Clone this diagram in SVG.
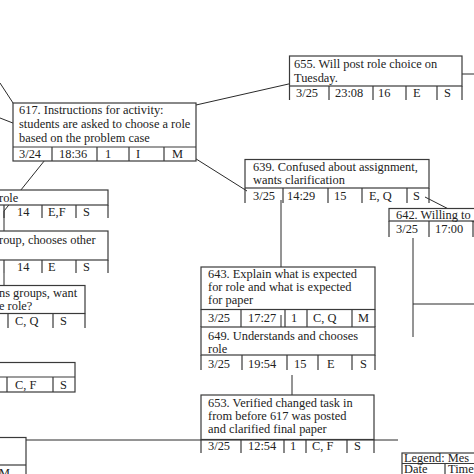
<svg xmlns="http://www.w3.org/2000/svg" width="474" height="474" viewBox="0 0 474 474">
<style>
.b{fill:#fff;stroke:#3a3a3a;stroke-width:1.2}
.d{fill:none;stroke:#3a3a3a;stroke-width:1.2}
.c{fill:none;stroke:#2a2a2a;stroke-width:1}
text{font-family:"Liberation Serif","Times New Roman",serif;font-size:12.4px;fill:#222}
</style>
<rect width="474" height="474" fill="#fff"/>
<g id="connectors">
<line class="c" x1="0" y1="83" x2="15" y2="106"/>
<line class="c" x1="0" y1="118" x2="18" y2="125"/>
<line class="c" x1="196" y1="105" x2="293" y2="83"/>
<line class="c" x1="49" y1="155" x2="4" y2="211"/>
<line class="c" x1="193" y1="157" x2="247" y2="191"/>
<line class="c" x1="458" y1="74" x2="474" y2="74"/>
<line class="c" x1="425" y1="197" x2="474" y2="222"/>
<line class="c" x1="281" y1="200" x2="281" y2="305"/>
<line class="c" x1="281" y1="315" x2="281" y2="337"/>
<line class="c" x1="292" y1="375" x2="292" y2="395"/>
<line class="c" x1="413" y1="238" x2="413" y2="337"/>
<line class="c" x1="413" y1="304" x2="474" y2="304"/>
<line class="c" x1="26" y1="440" x2="398" y2="440"/>
<line class="c" x1="4" y1="211" x2="4" y2="233"/>
<line class="c" x1="4" y1="273" x2="4" y2="287"/>
</g>
<g id="n617">
<rect class="b" x="13" y="103" width="183" height="58"/>
<path class="d" d="M13 147H196M52 147V161M97 147V161M129 147V161M164 147V161"/>
<text x="19" y="114">617. Instructions for activity:</text>
<text x="19" y="128">students are asked to choose a role</text>
<text x="19" y="142">based on the problem case</text>
<text x="19" y="157.5">3/24</text><text x="59" y="157.5">18:36</text><text x="105" y="157.5">1</text><text x="136" y="157.5">I</text><text x="172" y="157.5">M</text>
</g>
<g id="n655">
<rect class="b" x="289.5" y="56" width="172.5" height="30"/>
<path class="d" d="M289.5 86V100M329 86V100M373 86V100M406 86V100M437 86V100M462 86V100"/>
<text x="294" y="68">655. Will post role choice on</text>
<text x="294" y="82">Tuesday.</text>
<text x="296" y="97">3/25</text><text x="335" y="97">23:08</text><text x="378" y="97">16</text><text x="413" y="97">E</text><text x="444" y="97">S</text>
</g>
<g id="n639">
<rect class="b" x="245" y="159.5" width="184" height="28.5"/>
<path class="d" d="M245 188V203M283 188V203M328 188V203M362 188V203M407 188V203M429 188V203"/>
<text x="253" y="171">639. Confused about assignment,</text>
<text x="253" y="184">wants clarification</text>
<text x="253" y="199.5">3/25</text><text x="287" y="199.5">14:29</text><text x="334" y="199.5">15</text><text x="369" y="199.5">E, Q</text><text x="413" y="199.5">S</text>
</g>
<g id="n642">
<rect class="b" x="389" y="208.5" width="92" height="12.5"/>
<path class="d" d="M389 221V237M429 221V237M473 221V237"/>
<text x="396" y="218.5">642.  Willing to</text>
<text x="396" y="233">3/25</text><text x="435" y="233">17:00</text>
</g>
<g id="n643">
<rect class="b" x="201" y="267" width="174" height="42.5"/>
<path class="d" d="M201 309.5V327M241 309.5V327M285 309.5V327M307 309.5V327M352 309.5V327M375 309.5V327"/>
<text x="208" y="278">643. Explain what is expected</text>
<text x="208" y="291">for role and what is expected</text>
<text x="208" y="304">for paper</text>
<text x="208" y="321.5">3/25</text><text x="248" y="321.5">17:27</text><text x="291" y="321.5">1</text><text x="313" y="321.5">C, Q</text><text x="358" y="321.5">M</text>
</g>
<g id="n649">
<rect class="b" x="201" y="327" width="174" height="28"/>
<path class="d" d="M201 355V370M242 355V370M287 355V370M318 355V370M352 355V370M375 355V370"/>
<text x="208" y="340">649. Understands and chooses</text>
<text x="208" y="352.5">role</text>
<text x="208" y="368">3/25</text><text x="248" y="368">19:54</text><text x="294" y="368">15</text><text x="327" y="368">E</text><text x="360" y="368">S</text>
</g>
<g id="n653">
<rect class="b" x="201" y="395" width="173" height="44.5"/>
<path class="d" d="M201 439.5V453M241 439.5V453M284 439.5V453M306 439.5V453M347 439.5V453M374 439.5V453"/>
<text x="208" y="407">653. Verified changed task in</text>
<text x="208" y="420">from before 617 was  posted</text>
<text x="208" y="433">and clarified final paper</text>
<text x="208" y="449.5">3/25</text><text x="248" y="449.5">12:54</text><text x="290" y="449.5">1</text><text x="312" y="449.5">C, F</text><text x="354" y="449.5">S</text>
</g>
<g id="nA">
<rect class="b" x="-5" y="190" width="113" height="15"/>
<path class="d" d="M4 205V218M42 205V218M76 205V218M108 205V218"/>
<text x="-1" y="202">role</text>
<text x="17" y="215.5">14</text><text x="48" y="215.5">E,F</text><text x="83" y="215.5">S</text>
</g>
<g id="nB">
<rect class="b" x="-5" y="231" width="113" height="29"/>
<path class="d" d="M4 260V273M42 260V273M76 260V273M108 260V273"/>
<text x="-1" y="244">roup, chooses other</text>
<text x="17" y="271">14</text><text x="48" y="271">E</text><text x="83" y="271">S</text>
</g>
<g id="nC">
<rect class="b" x="-5" y="285.5" width="90" height="28"/>
<path class="d" d="M8 313.5V328M53 313.5V328M85 313.5V328"/>
<text x="-1" y="296.5">ns groups, want</text>
<text x="-1" y="309.5">e role?</text>
<text x="15" y="325">C, Q</text><text x="60" y="325">S</text>
</g>
<g id="nD">
<rect class="b" x="-5" y="362.5" width="80" height="29.5"/>
<path class="d" d="M-5 377H75M7 377V392M53 377V392"/>
<text x="15" y="389">C, F</text><text x="60" y="389">S</text>
</g>
<g id="nE">
<rect class="b" x="-5" y="437.5" width="31" height="45"/>
<path class="d" d="M-5 465H26"/>
<text x="-1" y="477">M</text>
</g>
<g id="legend">
<rect class="b" x="402" y="453" width="80" height="30"/>
<path class="d" d="M402 463.5H482M445 463.5V483"/>
<text x="404" y="461.5">Legend: Mes</text>
<text x="404" y="473">Date</text><text x="448" y="473">Time</text>
</g>
</svg>
